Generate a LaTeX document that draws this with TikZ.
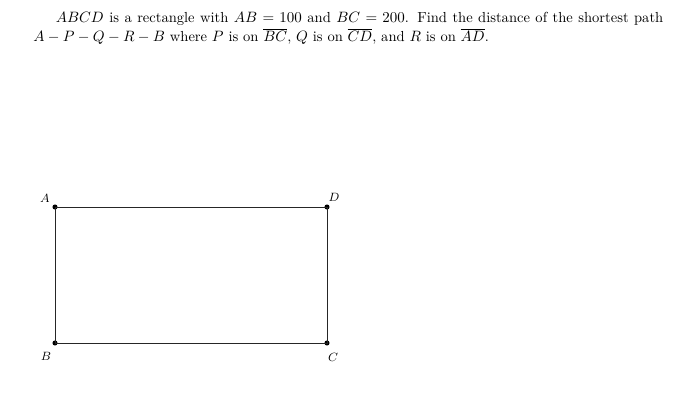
\documentclass[tikz,border=0pt]{standalone}
\usepackage{amsmath}
\begin{document}
\begin{tikzpicture}[x=0.6667pt,y=-0.6667pt,
  edge/.style={line width=0.6pt,draw=black!85},
  pt/.style={circle,fill=black,inner sep=0pt,minimum size=3.4pt},
  lbl/.style={font=\footnotesize,inner sep=0pt}]
\useasboundingbox (0,0) rectangle (700,413);
\node[anchor=north west,text width=420pt,inner sep=0pt,align=justify,font=\fontsize{9.7}{12.4}\selectfont] (txt) at (33,12)
 {\setlength{\parindent}{15pt}\indent$ABCD$ is a rectangle with $AB=100$ and $BC=200$. Find the distance of the shortest path $A-P-Q-R-B$ where $P$ is on $\overline{BC}$, $Q$ is on $\overline{CD}$, and $R$ is on $\overline{AD}$.};
\node[pt] (A) at (55,207) {};
\node[pt] (D) at (327,207) {};
\node[pt] (B) at (55,343) {};
\node[pt] (C) at (327,343) {};
\draw[edge] (A.center) -- (D.center) -- (C.center) -- (B.center) -- cycle;
\node[lbl] (lA) at (45,198) {$A$};
\node[lbl] (lD) at (334,197) {$D$};
\node[lbl] (lB) at (46,356) {$B$};
\node[lbl] (lC) at (333,357) {$C$};
\end{tikzpicture}
\end{document}
